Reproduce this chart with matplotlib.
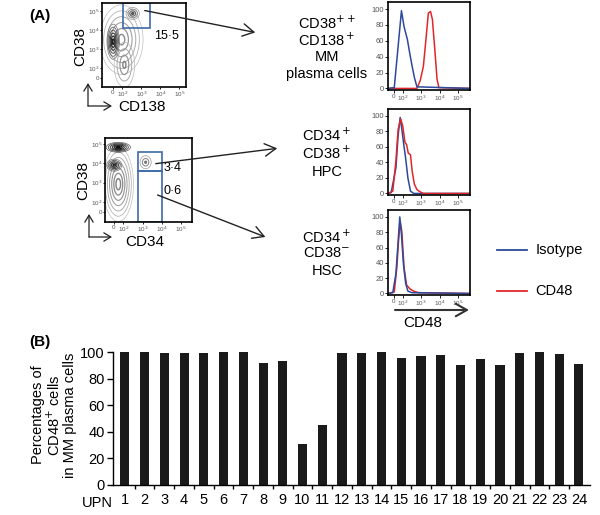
import matplotlib
matplotlib.use("Agg")
import matplotlib.pyplot as plt
from matplotlib.patches import Ellipse, Rectangle

plt.rcParams['font.family'] = ['Liberation Sans', 'DejaVu Sans']

W, H = 600, 515

# ---------------- data: panel B ----------------
upn = [str(i) for i in range(1, 25)]
cd48_pct = [100, 100, 99, 99.5, 99.5, 100, 100, 92, 93, 30.5, 45, 99,
            99, 100, 95.5, 97, 98, 90, 95, 90, 99.5, 100, 98.5, 91]
yticks_b = [0, 20, 40, 60, 80, 100]

# ---------------- data: histograms (x in display decades, y in % of max) ----------------
h1_iso_x = [0.2, 0.54, 0.93, 1.07, 1.25, 1.39, 1.51, 1.63, 1.77, 4.65]
h1_iso_y = [0, 1, 98, 78, 62, 43, 28, 14, 2, 0]
h1_cd48_x = [0.2, 1.77, 1.95, 2.12, 2.26, 2.39, 2.51, 2.61, 2.74, 2.86, 2.96, 4.65]
h1_cd48_y = [0, 0, 10, 28, 62, 95, 97, 87, 49, 12, 1, 0]

h2_iso_x = [0.2, 0.37, 0.63, 0.75, 0.86, 0.95, 1.04, 1.16, 1.28, 1.42, 1.6, 4.65]
h2_iso_y = [0, 1, 33, 75, 98, 83, 66, 45, 20, 3, 0, 0]
h2_cd48_x = [0.2, 0.46, 0.63, 0.75, 0.89, 1.0, 1.12, 1.21, 1.3, 1.42, 1.51, 1.63, 1.77, 1.95, 2.12, 4.65]
h2_cd48_y = [0, 3, 42, 83, 96, 87, 66, 63, 52, 50, 29, 12, 5, 2, 0, 0]

h3_iso_x = [0.2, 0.46, 0.63, 0.75, 0.84, 0.93, 1.04, 1.16, 1.28, 1.51, 4.65]
h3_iso_y = [0, 1, 26, 68, 100, 77, 38, 13, 3, 1, 0]
h3_cd48_x = [0.2, 0.54, 0.68, 0.77, 0.86, 0.95, 1.07, 1.21, 1.39, 1.6, 1.86, 4.65]
h3_cd48_y = [0, 2, 34, 68, 94, 81, 34, 11, 6, 3, 1, 0]

hist_yticks = [0, 20, 40, 60, 80, 100]
flow_tick_pos = [0.5, 1, 2, 3, 4]
flow_tick_lab = ['0', '10$^2$', '10$^3$', '10$^4$', '10$^5$']

# ---------------- data: dot-plot populations (centre x, centre y, width, height) ----------------
p1_cx = [0.95, 1.1, 0.51, 1.54]
p1_cy = [2.5, 1.16, 2.39, 3.89]
p1_w = [2.27, 1.08, 0.65, 0.7]
p1_h = [3.7, 2.4, 1.87, 0.64]
p1_gate = (1.05, 3.14, 1.41, 1.3)   # x, y, w, h
p1_pct = "15·5"

p2_cx = [0.74, 0.53, 0.74, 2.16]
p2_cy = [1.92, 2.9, 3.82, 3.05]
p2_w = [1.58, 0.79, 1.26, 0.58]
p2_h = [3.85, 0.62, 0.51, 0.67]
p2_gate_hi = (1.74, 2.59, 1.26, 0.97)
p2_gate_lo = (1.74, -0.03, 1.26, 2.62)
p2_pct = ["3·4", "0·6"]

BLUE = '#2b4a9b'
RED = '#e0262b'
GATE = '#3d6aa8'
TICKC = '#555555'

# ring styles per population: (number of rings, outer grey, inner grey)
p1_style = [(6, 0.75, 0.55), (4, 0.72, 0.5), (6, 0.45, 0.1), (4, 0.6, 0.3)]
p2_style = [(7, 0.75, 0.5), (5, 0.45, 0.15), (6, 0.35, 0.05), (3, 0.6, 0.45)]


def box(x0, y0, x1, y1):
    return [x0 / W, 1 - y1 / H, (x1 - x0) / W, (y1 - y0) / H]


fig = plt.figure(figsize=(W / 100, H / 100), dpi=100)

# ---------------- panel B: bar chart ----------------
axb = fig.add_axes(box(113, 352, 590, 485))
xs = list(range(len(upn)))
axb.bar(xs, cd48_pct, width=0.46, color='#1a1a1a')
axb.set_xlim(-0.6, 23.56)
axb.set_ylim(0, 100)
axb.set_yticks(yticks_b)
axb.set_yticklabels([str(v) for v in yticks_b], fontsize=10.5)
axb.set_xticks(xs)
axb.set_xticklabels(upn, fontsize=10.5)
axb.tick_params(axis='x', length=0, pad=6)
axb.set_xticks([i + 0.5 for i in xs[:-1]], minor=True)
axb.tick_params(axis='x', which='minor', length=3, width=1)
axb.tick_params(axis='y', length=4, width=1, pad=2)
for s in ['top', 'right']:
    axb.spines[s].set_visible(False)
for s in ['left', 'bottom']:
    axb.spines[s].set_linewidth(1.0)

# ---------------- histograms ----------------
hists = [
    ((388, 2, 470, 90), h1_iso_x, h1_iso_y, h1_cd48_x, h1_cd48_y, True),
    ((388, 109, 470, 195), h2_iso_x, h2_iso_y, h2_cd48_x, h2_cd48_y, False),
    ((388, 210, 470, 295), h3_iso_x, h3_iso_y, h3_cd48_x, h3_cd48_y, True),
]
for (bx, iso_x, iso_y, cd_x, cd_y, iso_top) in hists:
    ah = fig.add_axes(box(*bx))
    if iso_top:
        ah.plot(cd_x, cd_y, color=RED, lw=1.1)
        ah.plot(iso_x, iso_y, color=BLUE, lw=1.1)
    else:
        ah.plot(iso_x, iso_y, color=BLUE, lw=1.1)
        ah.plot(cd_x, cd_y, color=RED, lw=1.1)
    ah.set_xlim(0.2, 4.65)
    ah.set_ylim(-2, 109)
    ah.set_yticks(hist_yticks)
    ah.set_yticklabels([str(v) for v in hist_yticks], fontsize=5.5, color=TICKC)
    ah.set_xticks(flow_tick_pos)
    ah.set_xticklabels(flow_tick_lab, fontsize=4.5, color=TICKC)
    ah.tick_params(length=2, width=0.6, pad=1)
    for s in ah.spines.values():
        s.set_linewidth(1.2)


# ---------------- dot plots ----------------
def dotplot(bx, cx, cy, w, h, style, ytick_pos):
    ad = fig.add_axes(box(*bx))
    for i in range(len(cx)):
        n, g0, g1 = style[i]
        for k in range(n):
            t = k / max(n - 1, 1)
            f = 1 - 0.85 * t
            shade = g0 + (g1 - g0) * t
            ad.add_patch(Ellipse((cx[i], cy[i]), w[i] * f, h[i] * f, fill=False,
                                 lw=0.5 + 0.5 * t, ec=(shade, shade, shade)))
    ad.set_xticks(flow_tick_pos)
    ad.set_xticklabels(flow_tick_lab, fontsize=4.5, color=TICKC)
    ad.set_yticks(ytick_pos)
    ad.set_yticklabels(flow_tick_lab, fontsize=4.5, color=TICKC)
    ad.tick_params(length=1.5, width=0.6, pad=0.5)
    for s in ad.spines.values():
        s.set_linewidth(1.2)
    return ad


ad1 = dotplot((102, 3, 186, 87), p1_cx, p1_cy, p1_w, p1_h, p1_style, [0.47, 1, 2, 3, 4])
ad1.set_xlim(-0.08, 4.35)
ad1.set_ylim(-0.02, 4.45)
gx, gy, gw, gh = p1_gate
ad1.add_patch(Rectangle((gx, gy), gw, gh, fill=False, ec=GATE, lw=1.2))
ad1.text(2.65, 2.7, p1_pct, fontsize=9, ha='left', va='center')

ad2 = dotplot((105, 138, 192, 222), p2_cx, p2_cy, p2_w, p2_h, p2_style, [0.49, 1, 2, 3, 4])
ad2.set_xlim(0.05, 4.57)
ad2.set_ylim(-0.03, 4.3)
for g in (p2_gate_hi, p2_gate_lo):
    ad2.add_patch(Rectangle((g[0], g[1]), g[2], g[3], fill=False, ec=GATE, lw=1.2))
ad2.text(3.1, 2.75, p2_pct[0], fontsize=9, ha='left', va='center')
ad2.text(3.1, 1.55, p2_pct[1], fontsize=9, ha='left', va='center')

# ---------------- overlay: labels, arrows ----------------
ov = fig.add_axes([0, 0, 1, 1], zorder=10)
ov.set_xlim(0, W)
ov.set_ylim(H, 0)
ov.axis('off')
ov.patch.set_alpha(0)

ov.text(40, 16, "(A)", fontsize=11, fontweight='bold', ha='center', va='center')
ov.text(40, 342, "(B)", fontsize=11, fontweight='bold', ha='center', va='center')

ap = dict(arrowstyle='->,head_length=0.8,head_width=0.45', color='#222222', lw=1.0)
ov.annotate('', xy=(258, 33), xytext=(142, 10), arrowprops=ap)
ov.annotate('', xy=(280, 148), xytext=(153, 164), arrowprops=ap)
ov.annotate('', xy=(268, 238), xytext=(155, 194), arrowprops=ap)

apl = dict(arrowstyle='->,head_length=0.5,head_width=0.3', color='#222222', lw=0.9,
           shrinkA=0, shrinkB=0)
for (xv, ytop, ycorner, xr) in [(88, 83, 106, 112), (89, 214, 237, 112)]:
    ov.annotate('', xy=(xv, ytop), xytext=(xv, ycorner), arrowprops=apl)
    ov.annotate('', xy=(xr, ycorner), xytext=(xv, ycorner), arrowprops=apl)

ov.text(80, 47, "CD38", fontsize=11, rotation=90, ha='center', va='center')
ov.text(142, 107, "CD138", fontsize=11, ha='center', va='center')
ov.text(83, 181, "CD38", fontsize=11, rotation=90, ha='center', va='center')
ov.text(145, 242, "CD34", fontsize=11, ha='center', va='center')

fs = 10.5
ov.text(327, 23, "CD38$^{++}$", fontsize=fs, ha='center', va='center')
ov.text(327, 40, "CD138$^+$", fontsize=fs, ha='center', va='center')
ov.text(327, 57, "MM", fontsize=fs, ha='center', va='center')
ov.text(327, 74, "plasma cells", fontsize=fs, ha='center', va='center')
ov.text(327, 135, "CD34$^+$", fontsize=fs, ha='center', va='center')
ov.text(327, 153, "CD38$^+$", fontsize=fs, ha='center', va='center')
ov.text(327, 172, "HPC", fontsize=fs, ha='center', va='center')
ov.text(327, 237, "CD34$^+$", fontsize=fs, ha='center', va='center')
ov.text(327, 254, "CD38$^{\u2212}$", fontsize=fs, ha='center', va='center')
ov.text(327, 271, "HSC", fontsize=fs, ha='center', va='center')

ov.plot([497, 527], [250, 250], color=BLUE, lw=1.3)
ov.plot([497, 527], [291, 291], color=RED, lw=1.3)
ov.text(536, 250, "Isotype", fontsize=10.5, ha='left', va='center')
ov.text(535, 291, "CD48", fontsize=10.5, ha='left', va='center')

ov.annotate('', xy=(469, 310), xytext=(395, 310),
            arrowprops=dict(arrowstyle='->,head_length=0.8,head_width=0.45',
                            color='#333333', lw=1.5, shrinkA=0, shrinkB=0))
ov.text(423, 323, "CD48", fontsize=11, ha='center', va='center')

ov.text(97, 503, "UPN", fontsize=10.5, ha='center', va='center')
ov.text(38, 415, "Percentages of", fontsize=10.5, rotation=90, ha='center', va='center')
ov.text(54, 415, "CD48$^{+}$ cells", fontsize=10.5, rotation=90, ha='center', va='center')
ov.text(70, 415, "in MM plasma cells", fontsize=10.5, rotation=90, ha='center', va='center')

fig.savefig("out.png", dpi=100)
